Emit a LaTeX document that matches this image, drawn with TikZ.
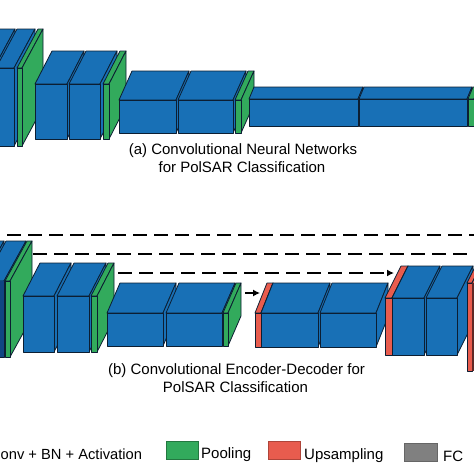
\documentclass[tikz,border=0pt]{standalone}
\usepackage{fontspec}
\setmainfont{Liberation Sans}
\usetikzlibrary{arrows.meta}
\definecolor{cblue}{RGB}{24,112,182}
\definecolor{cbluedark}{RGB}{16,70,130}
\definecolor{cgreen}{RGB}{50,170,92}
\definecolor{cred}{RGB}{232,92,78}
\definecolor{cgray}{RGB}{128,128,128}
\definecolor{cmaroon}{RGB}{96,42,40}
\definecolor{cedge}{RGB}{12,30,50}
\newcommand\mycube[7]{%
  \filldraw[blk, fill=#7] (#1,#2) -- (#1+#5,#2-#6) -- (#1+#3+#5,#2-#6) -- (#1+#3,#2) -- cycle;
  \filldraw[blk, fill=#7] (#1+#3,#2) -- (#1+#3+#5,#2-#6) -- (#1+#3+#5,#2+#4-#6) -- (#1+#3,#2+#4) -- cycle;
  \filldraw[blk, fill=#7] (#1,#2) rectangle (#1+#3,#2+#4);
}
\tikzset{
  blk/.style={draw=cedge, line width=0.8pt, line join=round},
  lbl/.style={inner sep=0pt, font=\fontsize{15}{18}\selectfont},
  skip/.style={draw=black, line width=2pt, dash pattern=on 14pt off 7pt},
  arr/.style={-{Latex[length=7pt,width=7pt]}},
  legbox/.style={line width=0.6pt}
}
\begin{document}
\begin{tikzpicture}[x=1pt,y=-1pt]
\useasboundingbox (0,0) rectangle (474,474);
\clip (0,0) rectangle (474,474);
% ---------- (a) CNN ----------
\mycube{-30}{68}{24}{78}{21}{39}{cblue}
\mycube{-4}{68}{18}{78}{21}{39}{cblue}
\mycube{17}{68}{5}{78}{21}{39}{cgreen}
\mycube{35}{84}{32}{55}{17}{33}{cblue}
\mycube{69}{84}{31}{55}{17}{33}{cblue}
\mycube{103}{84}{6}{55}{17}{33}{cgreen}
\mycube{119}{100}{57}{33}{13}{29}{cblue}
\mycube{178}{100}{55}{33}{13}{29}{cblue}
\mycube{235}{100}{6}{33}{13}{29}{cgreen}
\mycube{249}{99}{109}{27}{5}{12}{cblue}
\mycube{359}{99}{108}{27}{5}{12}{cblue}
\mycube{468}{99}{6}{27}{5}{12}{cgreen}
\node[lbl, anchor=base] (capa1) at (243,154) {(a) Convolutional Neural Networks};
\node[lbl, anchor=base] (capa2) at (242,172) {for PolSAR Classification};
% ---------- (b) Encoder-decoder ----------
\mycube{-40}{281}{22}{76}{22}{40}{cblue}
\mycube{-16}{281}{20}{76}{22}{40}{cblue}
\fill[cbluedark] (-16,281) rectangle (3.6,357);
\mycube{5}{281}{5}{76}{22}{40}{cgreen}
\mycube{23}{296}{31}{56}{17}{33}{cblue}
\mycube{57}{296}{32}{56}{17}{33}{cblue}
\mycube{91}{296}{6}{56}{17}{33}{cgreen}
\mycube{107}{313}{56}{33}{13}{30}{cblue}
\mycube{166}{313}{56}{33}{13}{30}{cblue}
\mycube{223}{313}{5}{33}{13}{30}{cgreen}
\mycube{255}{313}{6}{34}{12}{30}{cred}
\mycube{261}{313}{57}{34}{12}{30}{cblue}
\mycube{320}{313}{56}{34}{12}{30}{cblue}
\mycube{385}{298}{7}{57}{16}{32}{cred}
\mycube{392}{298}{32}{57}{16}{32}{cblue}
\mycube{426}{298}{31}{57}{16}{32}{cblue}
\mycube{467}{283}{5}{88}{18}{36}{cred}
\fill[cmaroon] (472.4,283.4) rectangle (480,370.6);
% skip connections
\coordinate (d1s) at (7,235);
\coordinate (d1e) at (480,235);
\coordinate (d2s) at (33,254);
\coordinate (d2e) at (480,254);
\coordinate (d3s) at (118,273);
\coordinate (d3e) at (394,273);
\coordinate (ss) at (245,293);
\coordinate (se) at (260,293);
\draw[skip] (d1s) -- (d1e);
\draw[skip] (d2s) -- (d2e);
\draw[skip, arr] (d3s) -- (d3e);
\draw[line width=1.2pt, arr] (ss) -- (se);
\node[lbl, anchor=base] (capb1) at (236.5,374) {(b) Convolutional Encoder-Decoder for};
\node[lbl, anchor=base] (capb2) at (235.5,392) {PolSAR Classification};
% ---------- legend ----------
\node[lbl, font=\fontsize{14.7}{18}\selectfont, anchor=base west] (lg1) at (0.5,459) {onv + BN + Activation};
\filldraw[legbox, fill=cgreen, draw=cgreen!70!black] (166,441) rectangle (198,459);
\node[lbl, anchor=base west] (lg2) at (201,458) {Pooling};
\filldraw[legbox, fill=cred, draw=cred!75!black] (268,441) rectangle (300,459);
\node[lbl, anchor=base west] (lg3) at (304,459) {Upsampling};
\filldraw[legbox, fill=cgray, draw=cgray!80!black] (404,443) rectangle (437,461);
\node[lbl, anchor=base west] (lg4) at (443,461) {FC};
\end{tikzpicture}
\end{document}
